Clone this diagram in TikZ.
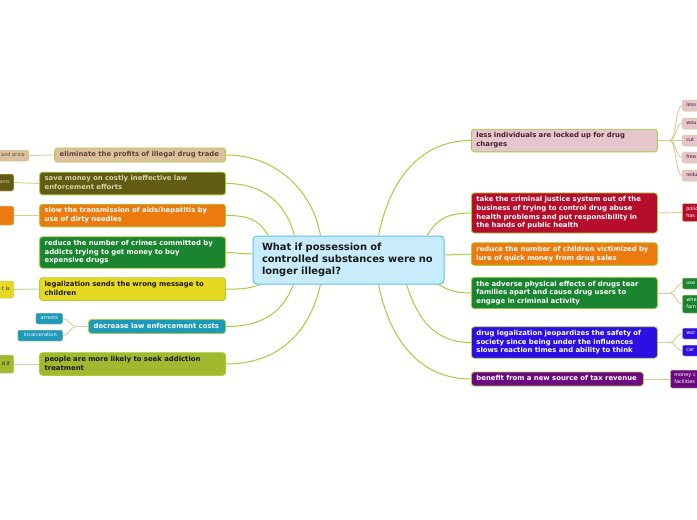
\documentclass[tikz,border=0pt]{standalone}
\usepackage{fontspec}
\setmainfont{DejaVu Sans}
\usetikzlibrary{backgrounds}
\definecolor{conn}{HTML}{A8CC3C}
\definecolor{subconn}{HTML}{D2CE96}
\definecolor{nodeborder}{HTML}{A8CC3C}
\definecolor{childborder}{HTML}{D6C68C}
\definecolor{cfill}{HTML}{C8ECFB}
\definecolor{cborder}{HTML}{5BC2EA}
\definecolor{tanf}{HTML}{DFC09E}
\definecolor{tant}{HTML}{5A4632}
\definecolor{olivef}{HTML}{625B13}
\definecolor{olivet}{HTML}{D8D2A8}
\definecolor{orangef}{HTML}{EC7A0E}
\definecolor{greenf}{HTML}{1A8431}
\definecolor{yellowf}{HTML}{E6D91F}
\definecolor{tealf}{HTML}{1B9ABB}
\definecolor{ygreenf}{HTML}{A1B92F}
\definecolor{pinkf}{HTML}{E4C6CC}
\definecolor{pinkt}{HTML}{4A1E2E}
\definecolor{crimsonf}{HTML}{B50D2B}
\definecolor{bluef}{HTML}{2D0FE3}
\definecolor{purplef}{HTML}{6B0A80}
\definecolor{darkt}{HTML}{1A1A1A}
\tikzset{
  mainbox/.style={draw=nodeborder, line width=0.8pt, rounded corners=3pt, align=left,
    text width=#1, inner xsep=5pt, inner ysep=2.65pt,
    font=\fontsize{6.9}{8.7}\selectfont\bfseries,
    execute at begin node=\strut, execute at end node=\strut},
  childbox/.style={draw=childborder, line width=0.5pt, rounded corners=2pt, align=left,
    text width=#1, inner xsep=4pt, inner ysep=2pt,
    font=\fontsize{5}{7}\selectfont,
    execute at begin node=\strut, execute at end node=\strut},
  lchild/.style={childbox=#1, align=right},
  centerbox/.style={draw=cborder, fill=cfill, line width=1pt, rounded corners=4pt, align=left,
    text width=173pt, inner xsep=9pt, inner ysep=6pt, text=darkt,
    font=\fontsize{9.9}{12}\selectfont\bfseries,
    execute at begin node=\strut, execute at end node=\strut},
  mconn/.style={draw=conn, line width=1pt},
  sconn/.style={draw=subconn, line width=0.9pt},
}
\begin{document}
\begin{tikzpicture}[x=1pt,y=-1pt]
\useasboundingbox (0,0) rectangle (697,520);

% center
\node[centerbox] (c) at (348.5,260) {What if possession of\\controlled substances were no\\longer illegal?};

% left main nodes
\node[mainbox=161pt, fill=tanf, text=tant, anchor=east] (L1) at (226,155) {eliminate the profits of illegal drug trade};
\node[mainbox=176pt, fill=olivef, text=olivet, anchor=east] (L2) at (226,183.5) {save money on costly ineffective law\\enforcement efforts};
\node[mainbox=176pt, fill=orangef, text=white, anchor=east] (L3) at (226,215.5) {slow the transmission of aids/hepatitis by\\use of dirty needles};
\node[mainbox=176pt, fill=greenf, text=white, anchor=east] (L4) at (226,252.5) {reduce the number of crimes committed by\\addicts trying to get money to buy\\expensive drugs};
\node[mainbox=176pt, fill=yellowf, text=darkt, anchor=east] (L5) at (226,289) {legalization sends the wrong message to\\children};
\node[mainbox=127pt, fill=tealf, text=white, anchor=east] (L6) at (226,326.5) {decrease law enforcement costs};
\node[mainbox=176pt, fill=ygreenf, text=darkt, anchor=east] (L7) at (226,364) {people are more likely to seek addiction\\treatment};

% right main nodes
\node[mainbox=176pt, fill=pinkf, text=pinkt, anchor=west] (R1) at (471,140.5) {less individuals are locked up for drug\\charges};
\node[mainbox=176pt, fill=crimsonf, text=white, anchor=west] (R2) at (471,213) {take the criminal justice system out of the\\business of trying to control drug abuse\\health problems and put responsibility in\\the hands of public health};
\node[mainbox=176pt, fill=orangef, text=white, anchor=west] (R3) at (471,254) {reduce the number of children victimized by\\lure of quick money from drug sales};
\node[mainbox=176pt, fill=greenf, text=white, anchor=west] (R4) at (471,293) {the adverse physical effects of drugs tear\\families apart and cause drug users to\\engage in criminal activity};
\node[mainbox=176pt, fill=bluef, text=white, anchor=west] (R5) at (471,342.5) {drug legalization jeopardizes the safety of\\society since being under the influences\\slows reaction times and ability to think};
\node[mainbox=162pt, fill=purplef, text=white, anchor=west] (R6) at (471,379) {benefit from a new source of tax revenue};

% left children
\node[lchild=50pt, fill=tanf, text=tant, anchor=east] (L1a) at (29,155.5) {and price};
\node[lchild=50pt, fill=olivef, text=olivet, anchor=east, minimum height=17pt] (L2a) at (14,182.5) {ams};
\node[lchild=50pt, fill=orangef, text=white, anchor=east, minimum height=19pt] (L3a) at (14,215.5) {};
\node[lchild=50pt, fill=yellowf, text=darkt, anchor=east, minimum height=17pt] (L5a) at (14,289.5) {t is};
\node[childbox=19pt, fill=tealf, text=white, anchor=east, align=center] (L6a) at (63,318.5) {arrests};
\node[childbox=37pt, fill=tealf, text=white, anchor=east, align=center] (L6b) at (63,335.5) {incarceration};
\node[lchild=50pt, fill=ygreenf, text=darkt, anchor=east, minimum height=18pt] (L7a) at (14,364) {d if};

% right children
\node[childbox=40pt, fill=pinkf, text=pinkt, anchor=west] (R1a) at (682,105.5) {less};
\node[childbox=40pt, fill=pinkf, text=pinkt, anchor=west] (R1b) at (682,123.5) {wou};
\node[childbox=40pt, fill=pinkf, text=pinkt, anchor=west] (R1c) at (682,140.5) {cut};
\node[childbox=40pt, fill=pinkf, text=pinkt, anchor=west] (R1d) at (682,157.5) {free};
\node[childbox=40pt, fill=pinkf, text=pinkt, anchor=west] (R1e) at (682,175.5) {redu};
\node[childbox=40pt, fill=crimsonf, text=white, anchor=west] (R2a) at (682,212.5) {polic\\has};
\node[childbox=40pt, fill=greenf, text=white, anchor=west] (R4a) at (682,283.5) {use};
\node[childbox=40pt, fill=greenf, text=white, anchor=west] (R4b) at (682,304) {whe\\fam};
\node[childbox=40pt, fill=bluef, text=white, anchor=west] (R5a) at (682,333.5) {wor};
\node[childbox=40pt, fill=bluef, text=white, anchor=west] (R5b) at (682,350.5) {car};
\node[childbox=40pt, fill=purplef, text=white, anchor=west] (R6a) at (670,379) {money c\\facilities};

% junctions
\coordinate (jR1) at ([xshift=12pt]R1.east);
\coordinate (jR4) at ([xshift=12pt]R4.east);
\coordinate (jR5) at ([xshift=12pt]R5.east);
\coordinate (jL6) at ([xshift=-12pt]L6.west);

\begin{scope}[on background layer]
% main connectors left
\draw[mconn] ([xshift=-28pt]c.north) .. controls +(-8,-45) and +(50,0) .. (L1.east);
\draw[mconn] ([xshift=-54pt]c.north) .. controls +(-8,-30) and +(40,0) .. (L2.east);
\draw[mconn] ([xshift=-80pt]c.north) .. controls +(-10,-15) and +(25,0) .. (L3.east);
\draw[mconn] ([yshift=6pt]c.west) .. controls +(-10,0) and +(10,0) .. (L4.east);
\draw[mconn] ([xshift=8pt]c.south west) .. controls +(-15,5) and +(15,0) .. (L5.east);
\draw[mconn] ([xshift=-55pt]c.south) .. controls +(-10,25) and +(40,0) .. (L6.east);
\draw[mconn] ([xshift=-28pt]c.south) .. controls +(-10,45) and +(55,0) .. (L7.east);
% main connectors right
\draw[mconn] ([xshift=30pt]c.north) .. controls +(10,-50) and +(-55,0) .. (R1.west);
\draw[mconn] ([xshift=-17pt]c.north east) .. controls +(8,-15) and +(-25,0) .. (R2.west);
\draw[mconn] ([yshift=5pt]c.east) .. controls +(10,0) and +(-10,0) .. (R3.west);
\draw[mconn] ([xshift=-6pt]c.south east) .. controls +(10,6) and +(-15,0) .. (R4.west);
\draw[mconn] ([xshift=58pt]c.south) .. controls +(10,30) and +(-40,0) .. (R5.west);
\draw[mconn] ([xshift=30pt]c.south) .. controls +(10,50) and +(-55,0) .. (R6.west);
% sub connectors
\draw[sconn] (L1.west) -- (L1a.east);
\draw[sconn] (L2.west) -- (L2a.east);
\draw[sconn] (L3.west) -- (L3a.east);
\draw[sconn] (L5.west) -- (L5a.east);
\draw[sconn] (L7.west) -- (L7a.east);
\draw[sconn] (L6.west) -- (jL6);
\draw[sconn] (jL6) .. controls +(-6,0) and +(6,0) .. (L6a.east);
\draw[sconn] (jL6) .. controls +(-6,0) and +(6,0) .. (L6b.east);
\draw[sconn] (R1.east) -- (jR1);
\foreach \n in {R1a,R1b,R1c,R1d,R1e} \draw[sconn] (jR1) .. controls +(6,0) and +(-6,0) .. (\n.west);
\draw[sconn] (R2.east) -- (R2a.west);
\draw[sconn] (R4.east) -- (jR4);
\foreach \n in {R4a,R4b} \draw[sconn] (jR4) .. controls +(6,0) and +(-6,0) .. (\n.west);
\draw[sconn] (R5.east) -- (jR5);
\foreach \n in {R5a,R5b} \draw[sconn] (jR5) .. controls +(6,0) and +(-6,0) .. (\n.west);
\draw[sconn] (R6.east) -- (R6a.west);
\end{scope}
\end{tikzpicture}
\end{document}
